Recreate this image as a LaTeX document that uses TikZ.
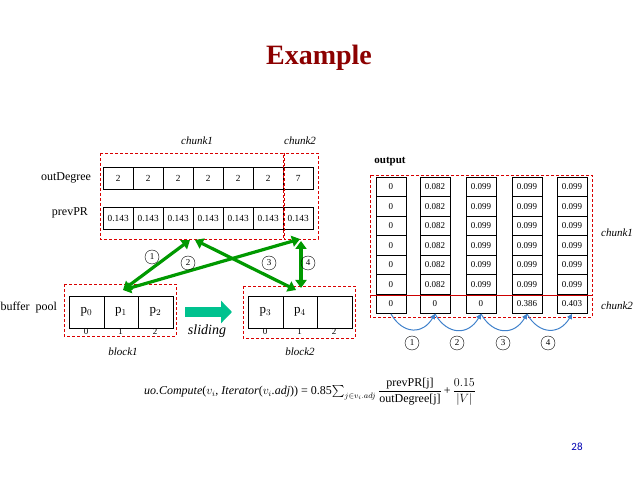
\documentclass[tikz,border=0pt]{standalone}
\usepackage{amsmath}
\usepackage{fontspec}
\setmainfont{Liberation Serif}
\newfontfamily\sansf{Carlito}
\usetikzlibrary{arrows.meta}
\begin{document}
\begin{tikzpicture}[x=1pt,y=-1pt,
  cell/.style={draw,minimum width=30pt,minimum height=22pt,inner sep=0pt,font=\fontsize{9.3}{10}\selectfont,anchor=north west},
  pcell/.style={draw,minimum width=34.5pt,minimum height=32pt,inner sep=0pt,font=\fontsize{13}{13}\selectfont,anchor=north west},
  ocell/.style={draw,minimum width=29.5pt,minimum height=19.5pt,inner sep=0pt,anchor=north west},
  ov/.style={font=\fontsize{9}{10}\selectfont},
  redbox/.style={draw=red!85!black,densely dashed,thin},
  lab/.style={font=\fontsize{11}{12}\selectfont\itshape},
  num/.style={circle,draw,inner sep=0.8pt,minimum size=14pt,font=\fontsize{9}{9}\selectfont},
  garrow/.style={draw=green!60!black,line width=3.2pt,{Triangle[length=8pt,width=11pt]}-{Triangle[length=8pt,width=11pt]}},
  barrow/.style={draw=cyan!50!blue!80!white,line width=1pt,-{Triangle[length=5pt,width=5pt]}}]
\useasboundingbox (0,0) rectangle (638,478);
\node[font=\fontsize{28}{30}\selectfont\bfseries,text=red!55!black] (title) at (319,58) {Example};
% left arrays
\node[font=\fontsize{12}{13}\selectfont] (od) at (66,178) {outDegree};
\node[font=\fontsize{12}{13}\selectfont] (pp) at (70,213) {prevPR};
\foreach \i/\v in {0/2,1/2,2/2,3/2,4/2,5/2,6/7}{
  \node[cell] (o\i) at (103+30*\i,167) {\v};
  \node[cell] (q\i) at (103+30*\i,207) {0.143};
}
\draw[redbox] (100,153) rectangle (283,239);
\draw[redbox] (284,153) rectangle (318,239);
\node[lab] (c1) at (197,141) {chunk1};
\node[lab] (c2) at (300,141) {chunk2};
\coordinate (c1b) at (190,240);
\coordinate (c1c) at (195,240);
\coordinate (c2b) at (300,239);
% blocks
\node[font=\fontsize{12}{13}\selectfont,anchor=west] (bp) at (-3,308) {buffer\ \ pool};
\foreach \i/\v in {0/{p$_0$},1/{p$_1$},2/{p$_2$}}{
  \node[pcell] (a\i) at (69+34.5*\i,296) {\v};
  \node[font=\fontsize{9}{9}\selectfont] (ai\i) at (86+34.5*\i,332) {\i};
}
\foreach \i/\v in {0/{p$_3$},1/{p$_4$},2/{}}{
  \node[pcell] (b\i) at (248+34.5*\i,296) {\v};
  \node[font=\fontsize{9}{9}\selectfont] (bi\i) at (265+34.5*\i,332) {\i};
}
\draw[redbox] (64,284) rectangle (176,336);
\draw[redbox] (243,286) rectangle (355,338);
\node[lab] (bl1) at (123,352) {block1};
\node[lab] (bl2) at (300,352) {block2};
\coordinate (a1t) at (123,290);
\coordinate (b1t) at (296,290);
\draw[garrow] (c1b) -- (a1t);
\draw[garrow] (c2b) -- (a1t);
\draw[garrow] (c1c) -- (b1t);
\draw[garrow] (301,241) -- (301,288);
\node[num] (n1) at (152,257) {1};
\node[num] (n2) at (188,263) {2};
\node[num] (n3) at (269,263) {3};
\node[num] (n4) at (308,263) {4};
\coordinate (s1) at (185,312);
\coordinate (s2) at (232,312);
\draw[draw=teal!60!cyan!80!green,line width=10pt,-{Triangle[length=11pt,width=22pt]}] (s1) -- (s2);
\node[font=\fontsize{14}{15}\selectfont\itshape] (sl) at (207,331) {sliding};
% output
\node[font=\fontsize{11}{12}\selectfont\bfseries] (out) at (390,162) {output};
\foreach \c/\x in {1/376,2/420,3/466,4/512,5/557}{
  \foreach \r in {0,...,6}{
    \node[ocell] (t\c\r) at (\x,177+19.5*\r) {};
  }
}
\foreach \r in {0,...,5}{
  \node[ov] at (t1\r) {0};
  \node[ov] at (t2\r) {0.082};
  \node[ov] at (t3\r) {0.099};
  \node[ov] at (t4\r) {0.099};
  \node[ov] at (t5\r) {0.099};
}
\node[ov] at (t16) {0};
\node[ov] at (t26) {0};
\node[ov] at (t36) {0};
\node[ov] at (t46) {0.386};
\node[ov] at (t56) {0.403};
\draw[redbox] (370,175) rectangle (592,295);
\draw[redbox] (370,295) rectangle (592,317);
\draw[red!80!black,thick] (370,295) -- (592,295);
\node[lab] (oc1) at (617,233) {chunk1};
\node[lab] (oc2) at (617,306) {chunk2};
\draw[barrow] (t16.south) to[out=-60,in=-120,looseness=1.4] (t26.south);
\draw[barrow] (t26.south) to[out=-60,in=-120,looseness=1.4] (t36.south);
\draw[barrow] (t36.south) to[out=-60,in=-120,looseness=1.4] (t46.south);
\draw[barrow] (t46.south) to[out=-60,in=-120,looseness=1.4] (t56.south);
\node[num] (m1) at (412,343) {1};
\node[num] (m2) at (457,343) {2};
\node[num] (m3) at (503,343) {3};
\node[num] (m4) at (548,343) {4};
% formula
\node[font=\fontsize{12}{13}\selectfont] (f) at (310,392) {\textit{uo.Compute}($v_i$, \textit{Iterator}($v_i$\textit{.adj})) = 0.85$\sum_{j\in v_i.adj}\dfrac{\text{prevPR[j]}}{\text{outDegree[j]}}$\,+\,$\dfrac{0.15}{|V|}$};
\node[font=\sansf\fontsize{11}{12}\selectfont,text=blue!70!black] (pg) at (577,447) {28};
\end{tikzpicture}
\end{document}
